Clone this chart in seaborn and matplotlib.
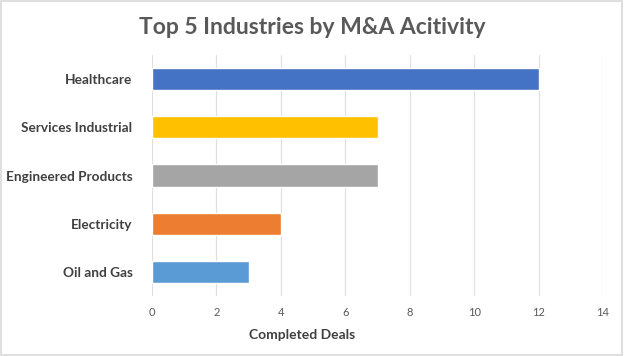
import matplotlib
matplotlib.use("Agg")
import matplotlib.pyplot as plt
import seaborn as sns
import pandas as pd
from matplotlib.patches import Rectangle

# data
industries = ["Healthcare", "Services Industrial", "Engineered Products", "Electricity", "Oil and Gas"]
deals = [12, 7, 7, 4, 3]
colors = ["#4472C4", "#FFC000", "#A5A5A5", "#ED7D31", "#5B9BD5"]
x_ticks = [0, 2, 4, 6, 8, 10, 12, 14]

df = pd.DataFrame({"industry": industries, "deals": deals})

sns.set_style("white")
plt.rcParams["font.family"] = ["Lato", "DejaVu Sans"]

fig = plt.figure(figsize=(6.24, 3.56), dpi=100)
ax = fig.add_axes([152 / 624, 1 - 296 / 356, (603 - 152) / 624, (296 - 55) / 356])

sns.barplot(data=df, x="deals", y="industry", hue="industry", palette=colors,
            order=industries, hue_order=industries, width=0.46, legend=False,
            saturation=1, ax=ax, zorder=3)

ax.set_xlim(0, 14)
ax.set_ylim(4.5, -0.5)
ax.set_xticks(x_ticks)
ax.set_xticklabels([str(t) for t in x_ticks], fontsize=8, color="#595959")
ax.tick_params(axis="x", length=0, pad=8)
ax.tick_params(axis="y", length=0, pad=14)
for lbl in ax.get_yticklabels():
    lbl.set_fontsize(9.8)
    lbl.set_fontweight("bold")
    lbl.set_color("#404040")
ax.grid(axis="x", color="#E0E0E0", linewidth=0.9, zorder=0)
ax.grid(axis="y", visible=False)
for s in ax.spines.values():
    s.set_visible(False)

ax.set_ylabel("")
ax.set_xlabel("Completed Deals", fontsize=10, fontweight="bold", color="#404040")
ax.xaxis.set_label_coords(0.333, -0.135)

fig.text(0.5, 1 - 27 / 356, "Top 5 Industries by M&A Acitivity", ha="center", va="center",
         fontsize=16.5, fontweight="bold", color="#595959")

fig.patches.append(Rectangle((0.002, 0.003), 0.995, 0.994, transform=fig.transFigure,
                             fill=False, edgecolor="#D9D9D9", linewidth=1.2))

fig.savefig("out.png", dpi=100)
